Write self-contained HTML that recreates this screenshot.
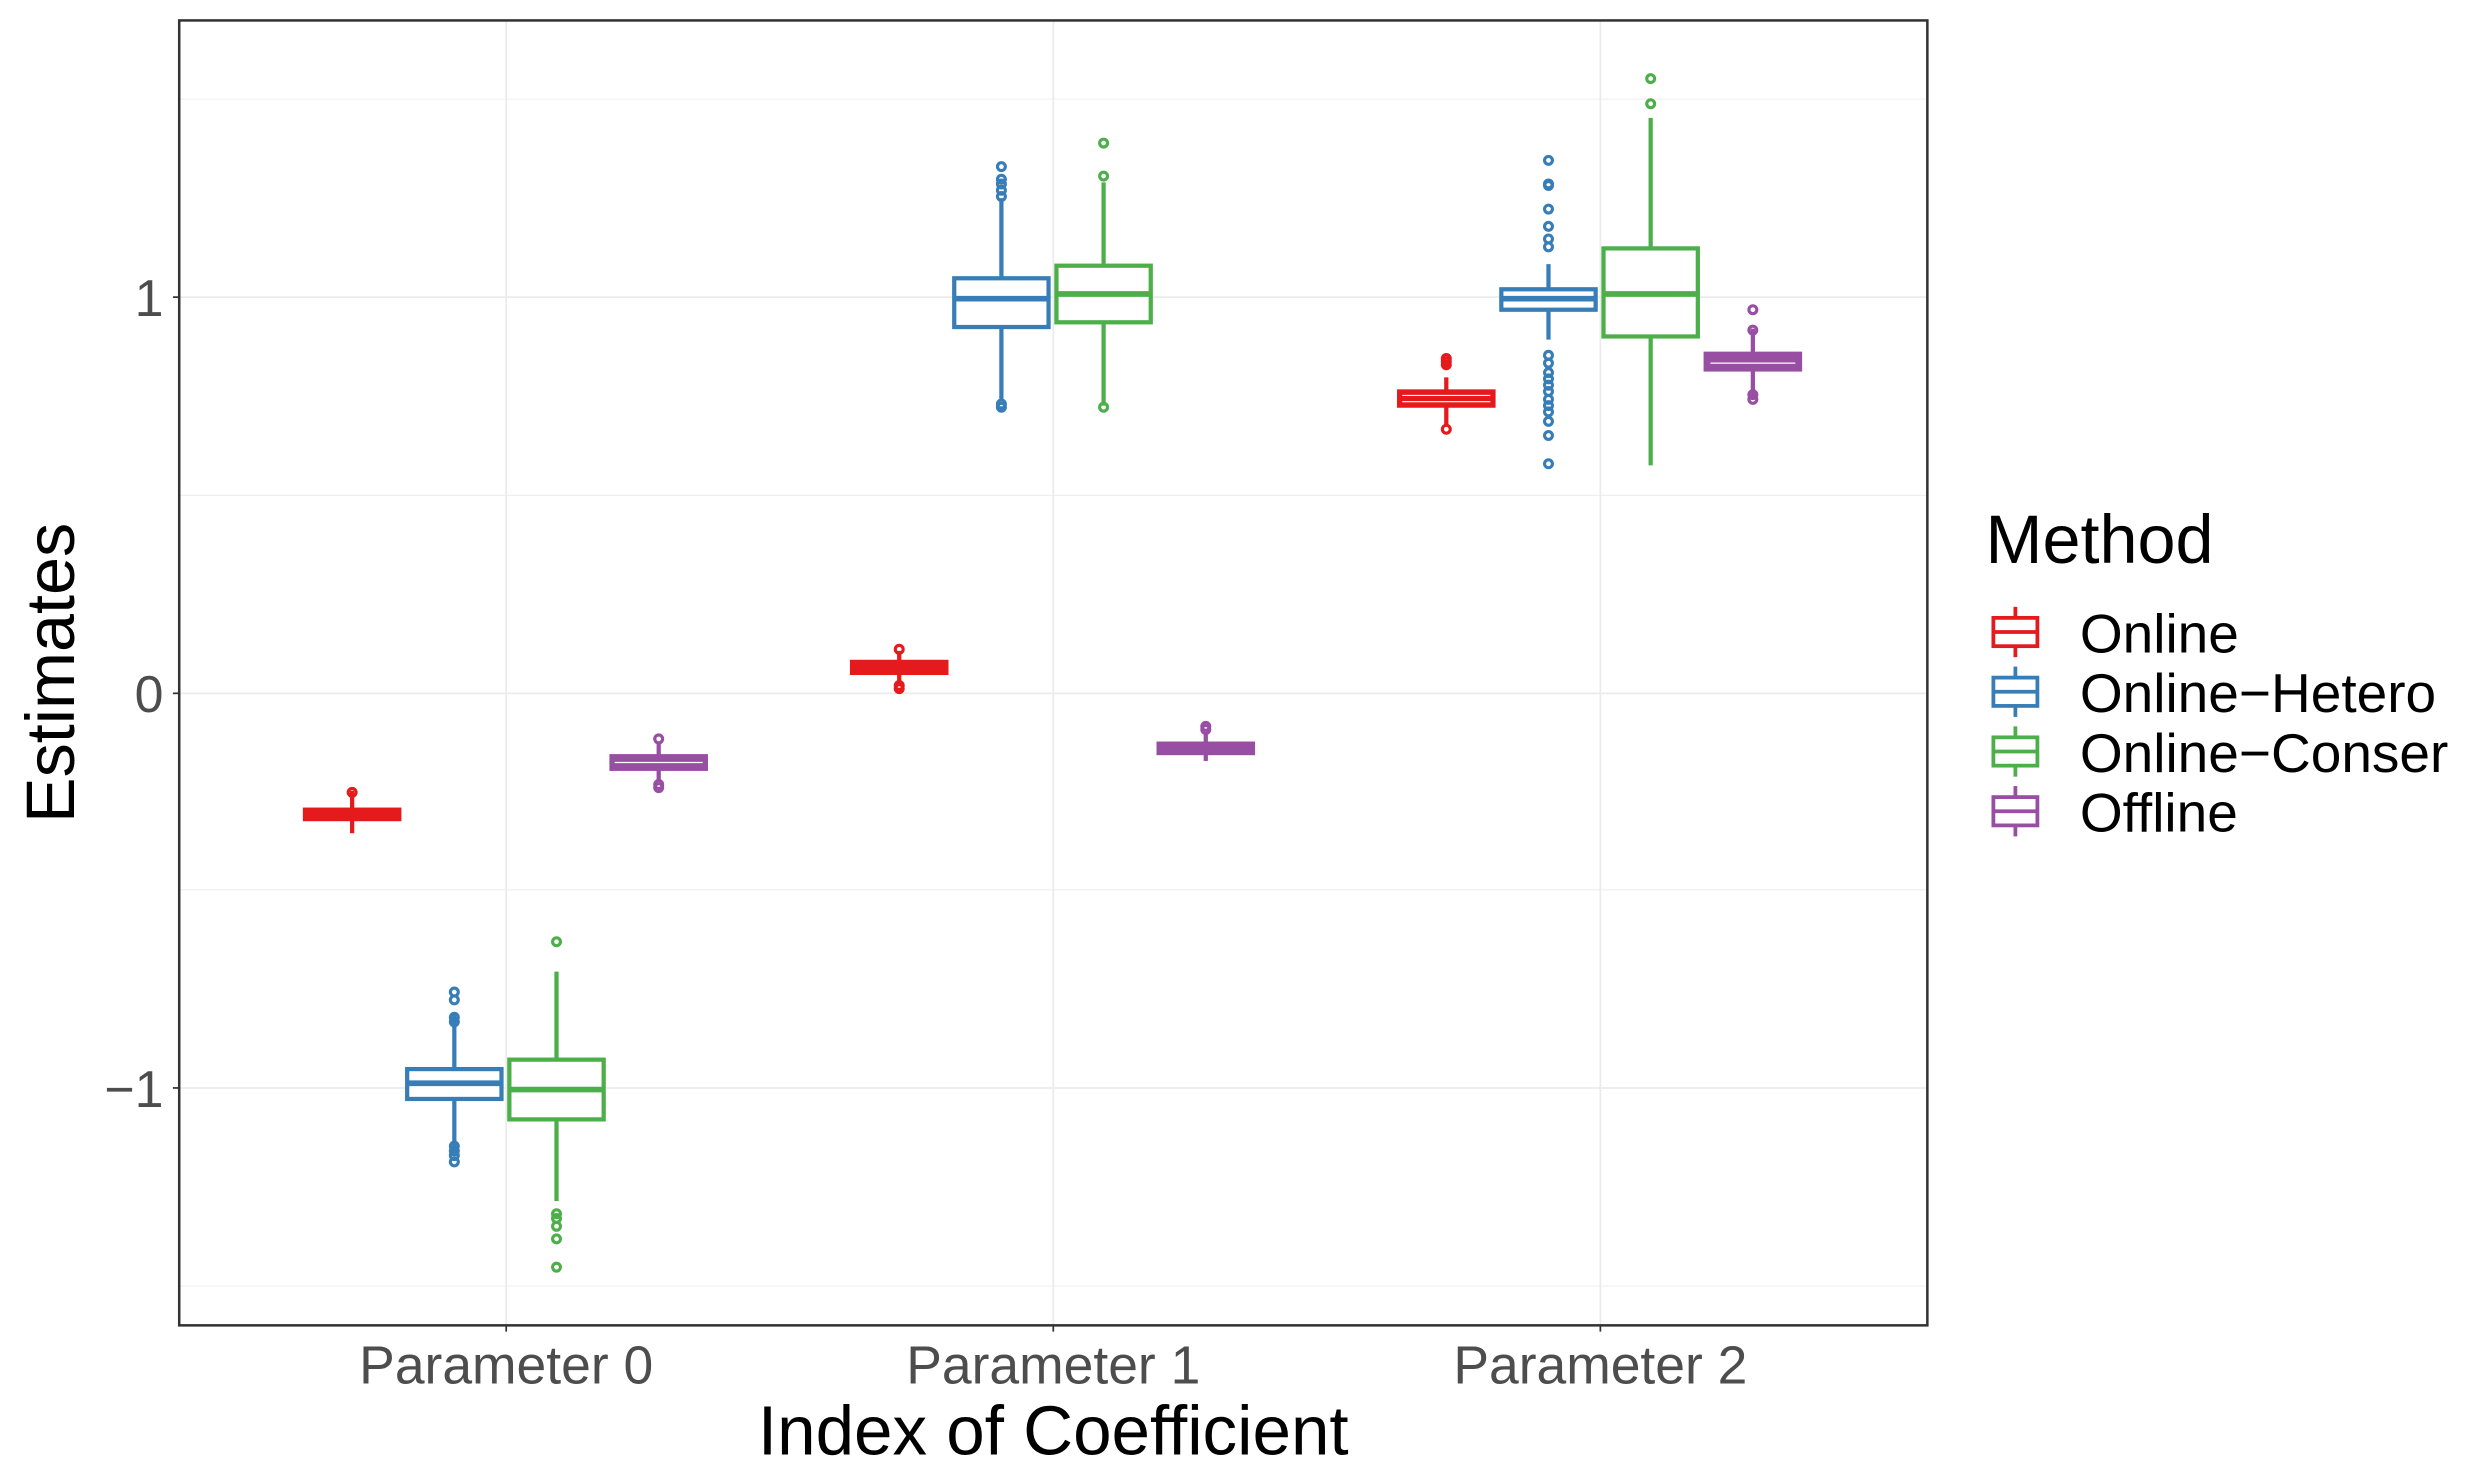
<!DOCTYPE html>
<html><head><meta charset="utf-8"><style>
html,body{margin:0;padding:0;background:#fff;width:2465px;height:1481px;overflow:hidden}
svg{display:block}
text{font-family:"Liberation Sans",Arial,sans-serif}
</style></head><body>
<svg width="2465" height="1481" viewBox="0 0 1568 942" preserveAspectRatio="none">
<rect width="1568" height="942" fill="#fff"/>
<g stroke="#ebebeb" stroke-width="0.6">
<line x1="114" x2="1226" y1="63" y2="63"/><line x1="114" x2="1226" y1="315" y2="315"/>
<line x1="114" x2="1226" y1="566" y2="566"/><line x1="114" x2="1226" y1="818" y2="818"/>
</g>
<g stroke="#ebebeb" stroke-width="1.1">
<line x1="114" x2="1226" y1="189" y2="189"/><line x1="114" x2="1226" y1="441" y2="441"/>
<line x1="114" x2="1226" y1="692" y2="692"/>
<line x1="322" x2="322" y1="13" y2="843"/><line x1="670" x2="670" y1="13" y2="843"/><line x1="1018" x2="1018" y1="13" y2="843"/>
</g>
<g fill="none" stroke-width="2.7">
<!-- Param0 -->
<g stroke="#E41A1C"><line x1="224" x2="224" y1="503" y2="530"/><rect x="194" y="515" width="60" height="6" fill="#E41A1C"/><line x1="194" x2="254" y1="518" y2="518"/><circle cx="224" cy="504" r="2.5" stroke-width="2"/></g>
<g stroke="#377EB8"><line x1="289" x2="289" y1="645" y2="730"/><rect x="259" y="680" width="60" height="19" fill="#fff"/><line x1="259" x2="319" y1="689" y2="689" stroke-width="3.6"/>
<g stroke-width="2"><circle cx="289" cy="631" r="2.5"/><circle cx="289" cy="636" r="2.5"/><circle cx="289" cy="647" r="2.5"/><circle cx="289" cy="650" r="2.5"/><circle cx="289" cy="729" r="2.5"/><circle cx="289" cy="732" r="2.5"/><circle cx="289" cy="735" r="2.5"/><circle cx="289" cy="739" r="2.5"/></g></g>
<g stroke="#4DAF4A"><line x1="354" x2="354" y1="618" y2="764"/><rect x="324" y="674" width="60" height="38" fill="#fff"/><line x1="324" x2="384" y1="693" y2="693" stroke-width="3.6"/>
<g stroke-width="2"><circle cx="354" cy="599" r="2.5"/><circle cx="354" cy="772" r="2.5"/><circle cx="354" cy="775" r="2.5"/><circle cx="354" cy="780" r="2.5"/><circle cx="354" cy="788" r="2.5"/><circle cx="354" cy="806" r="2.5"/></g></g>
<g stroke="#984EA3"><line x1="419" x2="419" y1="473" y2="497"/><rect x="389" y="481" width="60" height="8" fill="#984EA3"/><line x1="391" x2="447" y1="485" y2="485" stroke="#fff" stroke-width="0.8"/>
<g stroke-width="2"><circle cx="419" cy="470" r="2.5"/><circle cx="419" cy="499" r="2.5"/><circle cx="419" cy="501" r="2.5"/></g></g>
<!-- Param1 -->
<g stroke="#E41A1C"><line x1="572" x2="572" y1="414" y2="436"/><rect x="542" y="421" width="60" height="7" fill="#E41A1C"/>
<g stroke-width="2"><circle cx="572" cy="413" r="2.5"/><circle cx="572" cy="436" r="2.5"/><circle cx="572" cy="438" r="2.5"/></g></g>
<g stroke="#377EB8"><line x1="637" x2="637" y1="126" y2="254"/><rect x="607" y="177" width="60" height="31" fill="#fff"/><line x1="607" x2="667" y1="190" y2="190" stroke-width="3.6"/>
<g stroke-width="2"><circle cx="637" cy="106" r="2.5"/><circle cx="637" cy="114" r="2.5"/><circle cx="637" cy="117" r="2.5"/><circle cx="637" cy="121" r="2.5"/><circle cx="637" cy="125" r="2.5"/><circle cx="637" cy="257" r="2.5"/><circle cx="637" cy="259" r="2.5"/></g></g>
<g stroke="#4DAF4A"><line x1="702" x2="702" y1="116" y2="258"/><rect x="672" y="169" width="60" height="36" fill="#fff"/><line x1="672" x2="732" y1="187" y2="187" stroke-width="3.6"/>
<g stroke-width="2"><circle cx="702" cy="91" r="2.5"/><circle cx="702" cy="112" r="2.5"/><circle cx="702" cy="259" r="2.5"/></g></g>
<g stroke="#984EA3"><line x1="767" x2="767" y1="467" y2="484"/><rect x="737" y="473" width="60" height="6" fill="#984EA3"/>
<g stroke-width="2"><circle cx="767" cy="462" r="2.5"/><circle cx="767" cy="464" r="2.5"/></g></g>
<!-- Param2 -->
<g stroke="#E41A1C"><line x1="920" x2="920" y1="240" y2="270"/><rect x="890" y="249" width="60" height="9" fill="#E41A1C"/><line x1="892" x2="948" y1="251.5" y2="251.5" stroke="#fff" stroke-width="0.7"/><line x1="892" x2="948" y1="255.5" y2="255.5" stroke="#fff" stroke-width="0.7"/>
<g stroke-width="2"><circle cx="920" cy="228" r="2.5"/><circle cx="920" cy="230" r="2.5"/><circle cx="920" cy="232" r="2.5"/><circle cx="920" cy="273" r="2.5"/></g></g>
<g stroke="#377EB8"><line x1="985" x2="985" y1="168" y2="216"/><rect x="955" y="184" width="60" height="13" fill="#fff"/><line x1="955" x2="1015" y1="190" y2="190" stroke-width="3.6"/>
<g stroke-width="2"><circle cx="985" cy="102" r="2.5"/><circle cx="985" cy="117" r="2.5"/><circle cx="985" cy="118" r="2.5"/><circle cx="985" cy="133" r="2.5"/><circle cx="985" cy="144" r="2.5"/><circle cx="985" cy="152" r="2.5"/><circle cx="985" cy="157" r="2.5"/>
<circle cx="985" cy="226" r="2.5"/><circle cx="985" cy="231" r="2.5"/><circle cx="985" cy="237" r="2.5"/><circle cx="985" cy="241" r="2.5"/><circle cx="985" cy="245" r="2.5"/><circle cx="985" cy="249" r="2.5"/><circle cx="985" cy="254" r="2.5"/><circle cx="985" cy="258" r="2.5"/><circle cx="985" cy="262" r="2.5"/><circle cx="985" cy="268" r="2.5"/><circle cx="985" cy="277" r="2.5"/><circle cx="985" cy="295" r="2.5"/></g></g>
<g stroke="#4DAF4A"><line x1="1050" x2="1050" y1="75" y2="296"/><rect x="1020" y="158" width="60" height="56" fill="#fff"/><line x1="1020" x2="1080" y1="187" y2="187" stroke-width="3.6"/>
<g stroke-width="2"><circle cx="1050" cy="50" r="2.5"/><circle cx="1050" cy="66" r="2.5"/></g></g>
<g stroke="#984EA3"><line x1="1115" x2="1115" y1="209" y2="251"/><rect x="1085" y="225" width="60" height="10" fill="#984EA3"/><line x1="1088" x2="1142" y1="231" y2="231" stroke="#fff" stroke-width="0.8"/>
<g stroke-width="2"><circle cx="1115" cy="197" r="2.5"/><circle cx="1115" cy="210" r="2.5"/><circle cx="1115" cy="251" r="2.5"/><circle cx="1115" cy="254" r="2.5"/></g></g>
</g>
<rect x="114" y="13" width="1112" height="830" fill="none" stroke="#333" stroke-width="1.6"/>
<g stroke="#333" stroke-width="1.1">
<line x1="110" x2="114" y1="189" y2="189"/><line x1="110" x2="114" y1="441" y2="441"/><line x1="110" x2="114" y1="692" y2="692"/>
<line x1="322" x2="322" y1="843" y2="847"/><line x1="670" x2="670" y1="843" y2="847"/><line x1="1018" x2="1018" y1="843" y2="847"/>
</g>
<g fill="#4d4d4d" font-size="33" text-anchor="end">
<text x="104" y="201">1</text><text x="104" y="453">0</text><text x="104" y="704">−1</text>
</g>
<g fill="#4d4d4d" font-size="34" text-anchor="middle">
<text x="322" y="880">Parameter 0</text><text x="670" y="880">Parameter 1</text><text x="1018" y="880">Parameter 2</text>
</g>
<text x="670" y="925" font-size="44" text-anchor="middle" fill="#000">Index of Coefficient</text>
<text transform="translate(47,428) rotate(-90)" font-size="43.5" text-anchor="middle" fill="#000">Estimates</text>
<text x="1263" y="358" font-size="43.5" fill="#000">Method</text>
<g fill="none" stroke-width="2.4">
<g stroke="#E41A1C"><line x1="1282" x2="1282" y1="386" y2="418"/><rect x="1268" y="393" width="28" height="18" fill="#fff"/><line x1="1268" x2="1296" y1="402" y2="402"/></g>
<g stroke="#377EB8"><line x1="1282" x2="1282" y1="424" y2="456"/><rect x="1268" y="431" width="28" height="18" fill="#fff"/><line x1="1268" x2="1296" y1="440" y2="440"/></g>
<g stroke="#4DAF4A"><line x1="1282" x2="1282" y1="462" y2="494"/><rect x="1268" y="469" width="28" height="18" fill="#fff"/><line x1="1268" x2="1296" y1="478" y2="478"/></g>
<g stroke="#984EA3"><line x1="1282" x2="1282" y1="500" y2="532"/><rect x="1268" y="507" width="28" height="18" fill="#fff"/><line x1="1268" x2="1296" y1="516" y2="516"/></g>
</g>
<g fill="#000" font-size="35">
<text x="1323" y="415">Online</text><text x="1323" y="453">Online−Hetero</text><text x="1323" y="491">Online−Conser</text><text x="1323" y="529">Offline</text>
</g>
</svg>
</body></html>
